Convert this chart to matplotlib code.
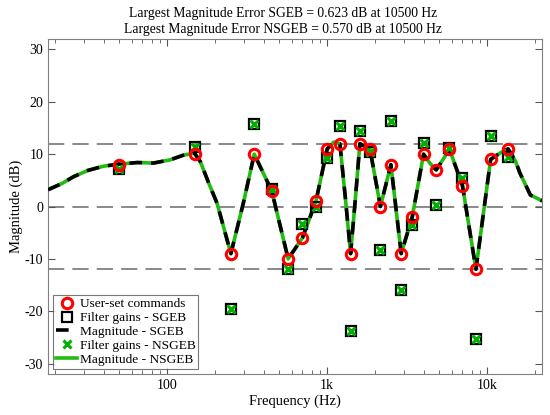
import matplotlib
matplotlib.use("Agg")
import matplotlib.pyplot as plt
from matplotlib.ticker import FixedLocator, NullFormatter, LogLocator

plt.rcParams['font.family'] = ['Liberation Serif', 'DejaVu Serif']
plt.rcParams['axes.unicode_minus'] = False

# User-set command frequencies (Hz) and gains (dB)
cmd_freq = [50, 150, 250, 350, 450, 570, 700, 850, 1000, 1200, 1400, 1600,
            1850, 2150, 2500, 2900, 3400, 4000, 4800, 5800, 7000, 8500, 10500, 13500]
cmd_db = [8.0, 10.0, -9.0, 10.0, 3.0, -10.0, -6.0, 1.0, 11.0, 12.0, -9.0, 12.0,
          11.0, 0.0, 8.0, -9.0, -2.0, 10.0, 7.0, 11.0, 4.0, -12.0, 9.0, 11.0]

# Filter gains (SGEB and NSGEB are practically identical)
gain_sgeb = [7.2, 11.3, -19.5, 15.7, 3.4, -11.9, -3.4, 0.0, 9.2, 15.4, -23.8, 14.5,
             10.5, -8.3, 16.3, -15.9, -3.6, 12.2, 0.2, 11.1, 5.5, -25.4, 13.5, 9.4]
gain_nsgeb = [7.2, 11.3, -19.5, 15.7, 3.4, -11.9, -3.4, 0.0, 9.2, 15.4, -23.8, 14.5,
              10.5, -8.3, 16.3, -15.9, -3.6, 12.2, 0.2, 11.1, 5.5, -25.4, 13.5, 9.4]

# Magnitude response
curve_freq = [18, 22, 26, 32, 40, 50, 65, 82, 104, 126, 148, 161, 180, 205, 250,
              300, 350, 450, 570, 700, 850, 1000, 1100, 1200, 1300, 1400, 1500, 1600,
              1850, 2150, 2500, 2900, 3400, 4000, 4400, 4800, 5300, 5800, 7000,
              8500, 10500, 12000, 13500, 15000, 16000, 18600, 22000]
curve_db = [3.2, 4.4, 5.7, 6.9, 7.7, 8.1, 8.4, 8.3, 8.9, 9.8, 10.2, 8.6, 4.8, 0.6, -9.0,
            0.8, 10.0, 3.0, -10.0, -6.0, 1.0, 11.0, 12.3, 12.0, 1.5, -9.0, 1.5, 12.0,
            11.0, 0.0, 8.0, -9.0, -2.0, 10.0, 8.2, 7.0, 9.0, 11.0, 4.0,
            -12.0, 9.0, 10.2, 11.0, 8.7, 6.4, 2.2, 1.1]

ref_levels = [12, 0, -12]

fig = plt.figure(figsize=(5.5, 4.15), dpi=100)
ax = fig.add_axes([0.0873, 0.0988, 0.8982, 0.8072])

for lv in ref_levels:
    ax.axhline(lv, color='#808080', lw=1.3, ls=(0, (9, 4.5)), zorder=1)

ax.plot(cmd_freq, cmd_db, 'o', ms=7.5, mfc='none', mec='#ff0000', mew=2.2,
        label='User-set commands', zorder=5)
ax.plot(cmd_freq, gain_sgeb, 's', ms=7.5, mfc='none', mec='black', mew=1.6,
        label='Filter gains - SGEB', zorder=4)
ax.plot(curve_freq, curve_db, color='black', lw=2.6, ls=(0, (3.5, 2.5)),
        label='Magnitude - SGEB', zorder=3)
ax.plot(cmd_freq, gain_nsgeb, 'x', ms=6, mec='#00b000', mew=2.2,
        label='Filter gains - NSGEB', zorder=4)
ax.plot(curve_freq, curve_db, color='#22bb11', lw=2.6, ls='-',
        label='Magnitude - NSGEB', zorder=2)

ax.set_xscale('log')
ax.set_xlim(18, 22000)
ax.set_ylim(-32, 32)
ax.xaxis.set_major_locator(FixedLocator([100, 1000, 10000]))
ax.set_xticklabels(['100', '1k', '10k'])
ax.xaxis.set_minor_locator(LogLocator(base=10, subs=range(2, 10)))
ax.xaxis.set_minor_formatter(NullFormatter())
ax.set_yticks([-30, -20, -10, 0, 10, 20, 30])

ax.tick_params(which='both', direction='in', top=True, right=True,
               colors='#555555', labelcolor='black', labelsize=10)
ax.tick_params(which='major', length=5)
ax.tick_params(which='minor', length=3)
for s in ax.spines.values():
    s.set_color('#808080')

ax.set_xlabel('Frequency (Hz)', fontsize=10.5, labelpad=2)
ax.set_ylabel('Magnitude (dB)', fontsize=10.5, labelpad=1)
ax.set_title('Largest Magnitude Error SGEB = 0.623 dB at 10500 Hz\n'
             'Largest Magnitude Error NSGEB = 0.570 dB at 10500 Hz',
             fontsize=9.8, linespacing=1.3, pad=4, x=0.476)

leg = ax.legend(loc='lower left', fontsize=9.6, frameon=True, fancybox=False,
                edgecolor='#555555', handlelength=1.6, handletextpad=0.2,
                borderpad=0.2, labelspacing=0.12, borderaxespad=0.4)
leg.get_frame().set_linewidth(0.8)

fig.savefig('out.png', dpi=100)
